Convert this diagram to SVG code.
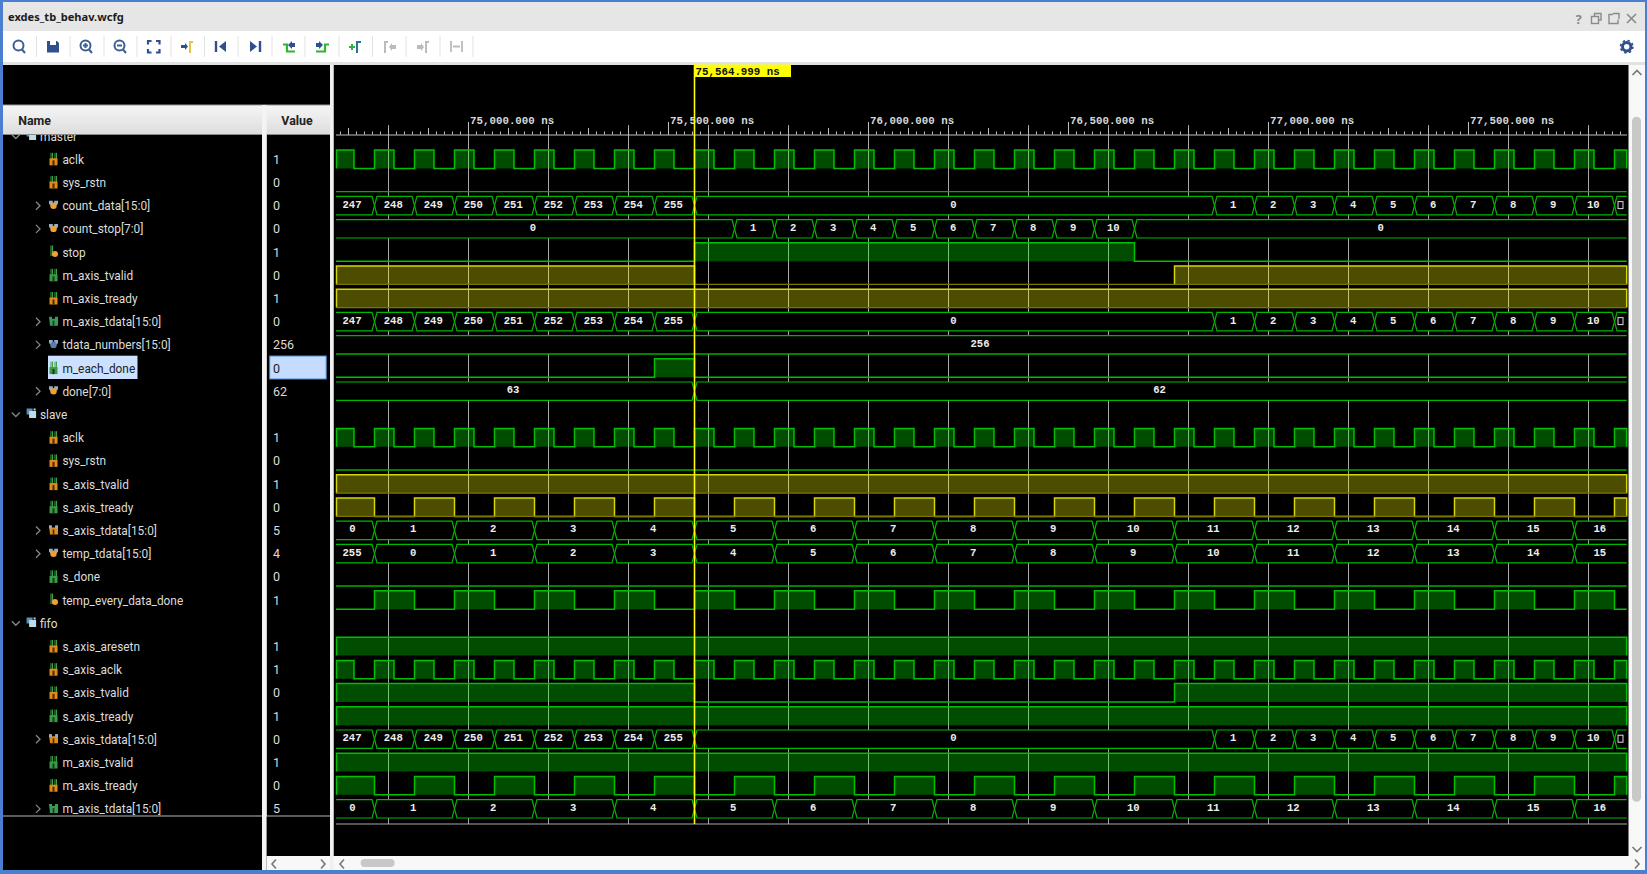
<svg xmlns="http://www.w3.org/2000/svg" xmlns:xlink="http://www.w3.org/1999/xlink" width="1647" height="874" viewBox="0 0 1647 874">
<style>
.lb{font:11.85px Roboto,"Noto Sans","Liberation Sans",sans-serif;fill:#dcdcdc}
.vl{font:12.5px Roboto,"Noto Sans","Liberation Sans",sans-serif;fill:#dcdcdc}
.hd{font:bold 12.4px Roboto,"Liberation Sans",sans-serif;fill:#222}
.t{font:bold 10.6px "Liberation Mono",monospace;fill:#eee;stroke:none;text-anchor:middle}
.r{font:bold 10.8px "Liberation Mono",monospace;fill:#d8d8d8}
.g{fill:#00ff00;fill-opacity:.3;stroke:#00c000;stroke-width:1.5}
.y{fill:#ffff00;fill-opacity:.3;stroke:#d8d800;stroke-width:1.5}
.yl{stroke:#807400;stroke-width:1.2;fill:none}
.gl{stroke:#00b000;stroke-width:1.3;fill:none}
.bus{fill:#000;stroke:#00b800;stroke-width:1.2}
.ch{fill:none;stroke:#888;stroke-width:1.3}
.sp{stroke:#e2e2e2;stroke-width:1}
.ib{fill:none;stroke:#3c5f96;stroke-width:2}
.sb{fill:none;stroke:#777;stroke-width:1.6}
</style>
<defs>
<path id="clk" d="M336.5 18.4V0H354V18.4H374.5
v-18.4h19.5v18.4h20.5 v-18.4h19.5v18.4h20.5 v-18.4h19.5v18.4h20.5 v-18.4h19.5v18.4h20.5 v-18.4h19.5v18.4h20.5
v-18.4h19.5v18.4h20.5 v-18.4h19.5v18.4h20.5 v-18.4h19.5v18.4h20.5 v-18.4h19.5v18.4h20.5 v-18.4h19.5v18.4h20.5
v-18.4h19.5v18.4h20.5 v-18.4h19.5v18.4h20.5 v-18.4h19.5v18.4h20.5 v-18.4h19.5v18.4h20.5 v-18.4h19.5v18.4h20.5
v-18.4h19.5v18.4h20.5 v-18.4h19.5v18.4h20.5 v-18.4h19.5v18.4h20.5 v-18.4h19.5v18.4h20.5 v-18.4h19.5v18.4h20.5
v-18.4h19.5v18.4h20.5 v-18.4h19.5v18.4h20.5 v-18.4h19.5v18.4h20.5 v-18.4h19.5v18.4h20.5 v-18.4h19.5v18.4h20.5
v-18.4h19.5v18.4h20.5 v-18.4h19.5v18.4h20.5 v-18.4h19.5v18.4h20.5 v-18.4h19.5v18.4h20.5 v-18.4h19.5v18.4h20.5
v-18.4h19.5v18.4h20.5
V0H1626.7V18.4"/>
<path id="half" d="M336.5 18.4V0H374.5V18.4H414.5
v-18.4h40v18.4h40 v-18.4h40v18.4h40 v-18.4h40v18.4h40 v-18.4h40v18.4h40 v-18.4h40v18.4h40
v-18.4h40v18.4h40 v-18.4h40v18.4h40 v-18.4h40v18.4h40 v-18.4h40v18.4h40 v-18.4h40v18.4h40
v-18.4h40v18.4h40 v-18.4h40v18.4h40 v-18.4h40v18.4h40 v-18.4h40v18.4h40 v-18.4h40v18.4h40
V0H1626.7V18.4"/>
<path id="inv" d="M336 18.4H374.5
v-18.4h40v18.4h40 v-18.4h40v18.4h40 v-18.4h40v18.4h40 v-18.4h40v18.4h40 v-18.4h40v18.4h40
v-18.4h40v18.4h40 v-18.4h40v18.4h40 v-18.4h40v18.4h40 v-18.4h40v18.4h40 v-18.4h40v18.4h40
v-18.4h40v18.4h40 v-18.4h40v18.4h40 v-18.4h40v18.4h40 v-18.4h40v18.4h40 v-18.4h40v18.4h40
v-18.4h40v18.4H1626.7"/>
<path id="b40" d="M0 9.2l2.5-9.2h35l2.5 9.2-2.5 9.2h-35z"/>
<path id="b80" d="M0 9.2l2.5-9.2h75l2.5 9.2-2.5 9.2h-75z"/>
<g id="countBus" class="bus">
<path d="M336 0H372l2.5 9.2-2.5 9.2H336"/>
<use href="#b40" x="374.5"/><use href="#b40" x="414.5"/><use href="#b40" x="454.5"/><use href="#b40" x="494.5"/><use href="#b40" x="534.5"/><use href="#b40" x="574.5"/><use href="#b40" x="614.5"/><use href="#b40" x="654.5"/>
<path d="M694.5 9.2l2.5-9.2H1212l2.5 9.2-2.5 9.2H697z"/>
<use href="#b40" x="1214.5"/><use href="#b40" x="1254.5"/><use href="#b40" x="1294.5"/><use href="#b40" x="1334.5"/><use href="#b40" x="1374.5"/><use href="#b40" x="1414.5"/><use href="#b40" x="1454.5"/><use href="#b40" x="1494.5"/><use href="#b40" x="1534.5"/><use href="#b40" x="1574.5"/>
<path d="M1626.7 0H1617l-2.5 9.2 2.5 9.2H1626.7"/>
<rect x="1618" y="5.2" width="5" height="7" fill="none" stroke="#ddd" stroke-width="1"/>
<text class="t" x="352" y="11.2">247</text><text class="t" x="393.3" y="11.2">248</text><text class="t" x="433.3" y="11.2">249</text><text class="t" x="473.3" y="11.2">250</text><text class="t" x="513.3" y="11.2">251</text><text class="t" x="553.3" y="11.2">252</text><text class="t" x="593.3" y="11.2">253</text><text class="t" x="633.3" y="11.2">254</text><text class="t" x="673.3" y="11.2">255</text>
<text class="t" x="953.5" y="11.2">0</text>
<text class="t" x="1233.3" y="11.2">1</text><text class="t" x="1273.3" y="11.2">2</text><text class="t" x="1313.3" y="11.2">3</text><text class="t" x="1353.3" y="11.2">4</text><text class="t" x="1393.3" y="11.2">5</text><text class="t" x="1433.3" y="11.2">6</text><text class="t" x="1473.3" y="11.2">7</text><text class="t" x="1513.3" y="11.2">8</text><text class="t" x="1553.3" y="11.2">9</text><text class="t" x="1593.3" y="11.2">10</text>
</g>
<g id="segs80" class="bus">
<path d="M336 0H372l2.5 9.2-2.5 9.2H336"/>
<use href="#b80" x="374.5"/><use href="#b80" x="454.5"/><use href="#b80" x="534.5"/><use href="#b80" x="614.5"/><use href="#b80" x="694.5"/><use href="#b80" x="774.5"/><use href="#b80" x="854.5"/><use href="#b80" x="934.5"/><use href="#b80" x="1014.5"/><use href="#b80" x="1094.5"/><use href="#b80" x="1174.5"/><use href="#b80" x="1254.5"/><use href="#b80" x="1334.5"/><use href="#b80" x="1414.5"/><use href="#b80" x="1494.5"/>
<path d="M1626.7 0H1577l-2.5 9.2 2.5 9.2H1626.7"/>
</g>
<g id="dataBus"><use href="#segs80"/>
<text class="t" x="352.5" y="11.2">0</text><text class="t" x="413.3" y="11.2">1</text><text class="t" x="493.3" y="11.2">2</text><text class="t" x="573.3" y="11.2">3</text><text class="t" x="653.3" y="11.2">4</text><text class="t" x="733.3" y="11.2">5</text><text class="t" x="813.3" y="11.2">6</text><text class="t" x="893.3" y="11.2">7</text><text class="t" x="973.3" y="11.2">8</text><text class="t" x="1053.3" y="11.2">9</text><text class="t" x="1133.3" y="11.2">10</text><text class="t" x="1213.3" y="11.2">11</text><text class="t" x="1293.3" y="11.2">12</text><text class="t" x="1373.3" y="11.2">13</text><text class="t" x="1453.3" y="11.2">14</text><text class="t" x="1533.3" y="11.2">15</text><text class="t" x="1599.8" y="11.2">16</text>
</g>
<g id="iO"><path d="M-2.5-6.5V0M-1-6.5V0M1.5-6.5V0M3-6.5V0" stroke="#3fa04a" stroke-width="1" fill="none"/><rect x="-4" y="-1" width="8" height="7" fill="#e08a1e"/><rect x="-1" y="1" width="2" height="5" fill="#4a2a00"/></g>
<g id="iG"><path d="M-2.5-6.5V0M-1-6.5V0M1.5-6.5V0M3-6.5V0" stroke="#3fa04a" stroke-width="1" fill="none"/><rect x="-4" y="-1" width="8" height="7" fill="#3c9a48"/><rect x="-1" y="1" width="2" height="5" fill="#143c1a"/></g>
<g id="iS"><path d="M-2.5-6.5V4M-1-6.5V4" stroke="#3fa04a" stroke-width="1.1" fill="none"/><circle cx="1.5" cy="2" r="3" fill="#f0a030"/></g>
<g id="bD"><path d="M-4.5-5H-.7V-1.5L-2.5 0-4.5-2ZM4.5-5H.7V-1.5L2.5 0 4.5-2Z" fill="#8fb0cc"/><circle cy="0" r="3.2" fill="#f0a030"/></g>
<g id="bN"><path d="M-4.5-5H-.7V-1.5L-2.5 0-4.5-2ZM4.5-5H.7V-1.5L2.5 0 4.5-2Z" fill="#8fb0cc"/><circle cy="0" r="3.2" fill="#5e7ea8"/></g>
<g id="bG"><path d="M-4.5-5H-1.5V-3H1.5V-5H4.5V4H-3.5Z" fill="#3c9a58"/><rect x="-.8" y="-1" width="1.6" height="5" fill="#143c1a"/></g>
<g id="bO"><path d="M-4.5-5H-1.5V-3H1.5V-5H4.5V4H-3.5Z" fill="#e08a1e"/><path d="M-4.5-5H-2V-2H-4.5ZM4.5-5H2V-2H4.5Z" fill="#8fb0cc"/><rect x="-.8" y="-1" width="1.6" height="5" fill="#4a2a00"/></g>
<g id="gi"><rect x="-5" y="-5.5" width="6" height="6" fill="#5d90b6"/><rect x="-2.5" y="-3" width="7" height="7" fill="#bcdcea"/><rect x="2" y="-5.5" width="2" height="2" fill="#bcdcea"/></g>
<path id="cv" class="ch" d="M-2-4 2 0-2 4"/>
<path id="cd" class="ch" d="M-4-2 0 2 4-2"/>
</defs>

<g id="window">
<rect width="1647" height="874" fill="#f8f8f8"/>
<rect x="0" y="2" width="1647" height="29" fill="#e6e6e6"/>
<rect x="0" y="31" width="1647" height="31" fill="#fff"/>
<rect x="0" y="62" width="1647" height="3" fill="#e2e2e2"/>
<text x="8" y="20.5" font-family="'Noto Sans','Liberation Sans',sans-serif" font-weight="700" font-size="11.1" fill="#1c1c1c">exdes_tb_behav.wcfg</text>
<g id="title-icons" fill="none" stroke="#8a8a8a" stroke-width="1.4">
<text x="1578.5" y="23.5" text-anchor="middle" font-family="'Noto Sans',sans-serif" font-weight="700" font-size="13" fill="#8a8a8a" stroke="none">?</text>
<rect x="1591.5" y="16.5" width="7" height="7"/><path d="M1594.5 16.5V13.5H1601V20H1598.5"/>
<path d="M1613 14.5H1609V23.5H1618V19.5M1613 13.5H1619V19"/>
<path d="M1627 14 1636 23M1636 14 1627 23" stroke-width="1.6"/>
</g>
</g>

<g id="toolbar">
<path class="sp" d="M36.5 36V57M70 36V57M104 36V57M137 36V57M171 36V57M204.5 36V57M238 36V57M272 36V57M305 36V57M339 36V57M372.5 36V57M406 36V57M440 36V57M473 36V57"/>
<g class="ib"><circle cx="18.5" cy="45.5" r="5"/><path d="M22 49.5 25 53"/></g>
<path d="M47 41H57L59 43V52.5H47Z" fill="#2f4f8e"/><rect x="50" y="41" width="6" height="4" fill="#fff"/>
<g class="ib"><circle cx="85.5" cy="45.5" r="5"/><path d="M89 49.5 92 53M83 45.5H88M85.5 43V48" /></g>
<g class="ib"><circle cx="119.5" cy="45.5" r="5"/><path d="M123 49.5 126 53M117 45.5H122"/></g>
<path d="M148 44.5V41H151.5M159.5 44.5V41H156M148 49V52.5H151.5M159.5 49V52.5H156" fill="none" stroke="#2f4f8e" stroke-width="2.2"/>
<path d="M181 45H185V43L188 46.5 185 50V48H181Z" fill="#2f4f8e"/><path d="M190 53V42H193" fill="none" stroke="#e6c34a" stroke-width="2"/>
<path d="M216 41V52" stroke="#2f4f8e" stroke-width="2.4"/><path d="M226 41V52L219 46.5Z" fill="#2f4f8e"/>
<path d="M260 41V52" stroke="#2f4f8e" stroke-width="2.4"/><path d="M250 41V52L257 46.5Z" fill="#2f4f8e"/>
<path d="M283 44.5H287V51.5H295" fill="none" stroke="#2fb52f" stroke-width="2.2"/><path d="M288 45l4-4v2h3v4h-3v2z" fill="#2f4f8e"/>
<path d="M316 51.5H325V44.5H329" fill="none" stroke="#2fb52f" stroke-width="2.2"/><path d="M316 43h3v-2l4 4-4 4v-2h-3z" fill="#2f4f8e"/>
<path d="M349 47H355M352 44V50" stroke="#2fb52f" stroke-width="2"/><path d="M357 53V42H361" fill="none" stroke="#2f6fa8" stroke-width="2"/>
<path d="M385 53V42H388" fill="none" stroke="#bbb" stroke-width="2"/><path d="M396 45H392V43L389 47 392 51V49H396Z" fill="#bbb"/>
<path d="M417 45H421V43L424 47 421 51V49H417Z" fill="#bbb"/><path d="M426 53V42H429" fill="none" stroke="#bbb" stroke-width="2"/>
<path d="M451 41V52M462 41V52M453 46.5H460" fill="none" stroke="#bbb" stroke-width="1.8"/>
<circle cx="1626.7" cy="46.7" r="4.2" fill="none" stroke="#2f4f8e" stroke-width="3"/><circle cx="1626.7" cy="46.7" r="6.2" fill="none" stroke="#2f4f8e" stroke-width="1.6" stroke-dasharray="2.4 2.47"/>
</g>

<g id="panels">
<rect x="3" y="65" width="259" height="805" fill="#000"/>
<rect x="266.6" y="65" width="63.4" height="791" fill="#000"/>
<rect x="333.5" y="65" width="1295" height="791" fill="#000"/>
<rect x="3" y="65" width="327" height="40" fill="#000"/>
</g>

<g id="name-list">
<g id="tree-master"><use href="#cd" x="15.8" y="136.5"/><use href="#gi" x="31.6" y="136"/><text class="lb" x="40" y="141">master</text></g>
<rect x="48" y="355.7" width="89.5" height="23.3" fill="#cce0ff"/>
<rect x="269.7" y="356" width="56.5" height="23" fill="#c4dcff" stroke="#4a88cc" stroke-width="1"/>
<g id="n-aclk"><use href="#iO" x="53.5" y="159.3"/><text class="lb" x="62.4" y="163.7">aclk</text><text class="vl" x="273" y="163.7">1</text></g>
<g id="n-sys_rstn"><use href="#iO" x="53.5" y="182.5"/><text class="lb" x="62.4" y="186.9">sys_rstn</text><text class="vl" x="273" y="186.9">0</text></g>
<g id="n-count_data"><use href="#cv" x="38" y="205.7"/><use href="#bD" x="53.5" y="205.7"/><text class="lb" x="62.4" y="210.1">count_data[15:0]</text><text class="vl" x="273" y="210.1">0</text></g>
<g id="n-count_stop"><use href="#cv" x="38" y="228.9"/><use href="#bD" x="53.5" y="228.9"/><text class="lb" x="62.4" y="233.3">count_stop[7:0]</text><text class="vl" x="273" y="233.3">0</text></g>
<g id="n-stop"><use href="#iS" x="53.5" y="252.1"/><text class="lb" x="62.4" y="256.5">stop</text><text class="vl" x="273" y="256.5">1</text></g>
<g id="n-m_axis_tvalid"><use href="#iG" x="53.5" y="275.3"/><text class="lb" x="62.4" y="279.7">m_axis_tvalid</text><text class="vl" x="273" y="279.7">0</text></g>
<g id="n-m_axis_tready"><use href="#iO" x="53.5" y="298.5"/><text class="lb" x="62.4" y="302.9">m_axis_tready</text><text class="vl" x="273" y="302.9">1</text></g>
<g id="n-m_axis_tdata"><use href="#cv" x="38" y="321.7"/><use href="#bG" x="53.5" y="321.7"/><text class="lb" x="62.4" y="326.1">m_axis_tdata[15:0]</text><text class="vl" x="273" y="326.1">0</text></g>
<g id="n-tdata_numbers"><use href="#cv" x="38" y="344.9"/><use href="#bN" x="53.5" y="344.9"/><text class="lb" x="62.4" y="349.3">tdata_numbers[15:0]</text><text class="vl" x="273" y="349.3">256</text></g>
<g id="n-m_each_done"><use href="#iG" x="53.5" y="368.1"/><text class="lb" x="62.4" y="372.5" style="fill:#222">m_each_done</text><text class="vl" x="273" y="372.5" style="fill:#222">0</text></g>
<g id="n-done"><use href="#cv" x="38" y="391.3"/><use href="#bD" x="53.5" y="391.3"/><text class="lb" x="62.4" y="395.7">done[7:0]</text><text class="vl" x="273" y="395.7">62</text></g>
<g id="tree-slave"><use href="#cd" x="15.8" y="414.5"/><use href="#gi" x="31.6" y="414"/><text class="lb" x="40" y="418.9">slave</text></g>
<g id="n-s-aclk"><use href="#iO" x="53.5" y="437.7"/><text class="lb" x="62.4" y="442.1">aclk</text><text class="vl" x="273" y="442.1">1</text></g>
<g id="n-s-sys_rstn"><use href="#iO" x="53.5" y="460.9"/><text class="lb" x="62.4" y="465.3">sys_rstn</text><text class="vl" x="273" y="465.3">0</text></g>
<g id="n-s_axis_tvalid"><use href="#iO" x="53.5" y="484.1"/><text class="lb" x="62.4" y="488.5">s_axis_tvalid</text><text class="vl" x="273" y="488.5">1</text></g>
<g id="n-s_axis_tready"><use href="#iG" x="53.5" y="507.3"/><text class="lb" x="62.4" y="511.7">s_axis_tready</text><text class="vl" x="273" y="511.7">0</text></g>
<g id="n-s_axis_tdata"><use href="#cv" x="38" y="530.5"/><use href="#bO" x="53.5" y="530.5"/><text class="lb" x="62.4" y="534.9">s_axis_tdata[15:0]</text><text class="vl" x="273" y="534.9">5</text></g>
<g id="n-temp_tdata"><use href="#cv" x="38" y="553.7"/><use href="#bD" x="53.5" y="553.7"/><text class="lb" x="62.4" y="558.1">temp_tdata[15:0]</text><text class="vl" x="273" y="558.1">4</text></g>
<g id="n-s_done"><use href="#iG" x="53.5" y="576.9"/><text class="lb" x="62.4" y="581.3">s_done</text><text class="vl" x="273" y="581.3">0</text></g>
<g id="n-temp_every"><use href="#iS" x="53.5" y="600.1"/><text class="lb" x="62.4" y="604.5">temp_every_data_done</text><text class="vl" x="273" y="604.5">1</text></g>
<g id="tree-fifo"><use href="#cd" x="15.8" y="623.3"/><use href="#gi" x="31.6" y="623"/><text class="lb" x="40" y="627.7">fifo</text></g>
<g id="n-f-aresetn"><use href="#iO" x="53.5" y="646.5"/><text class="lb" x="62.4" y="650.9">s_axis_aresetn</text><text class="vl" x="273" y="650.9">1</text></g>
<g id="n-f-aclk"><use href="#iO" x="53.5" y="669.7"/><text class="lb" x="62.4" y="674.1">s_axis_aclk</text><text class="vl" x="273" y="674.1">1</text></g>
<g id="n-f-s_tvalid"><use href="#iO" x="53.5" y="692.9"/><text class="lb" x="62.4" y="697.3">s_axis_tvalid</text><text class="vl" x="273" y="697.3">0</text></g>
<g id="n-f-s_tready"><use href="#iG" x="53.5" y="716.1"/><text class="lb" x="62.4" y="720.5">s_axis_tready</text><text class="vl" x="273" y="720.5">1</text></g>
<g id="n-f-s_tdata"><use href="#cv" x="38" y="739.3"/><use href="#bO" x="53.5" y="739.3"/><text class="lb" x="62.4" y="743.7">s_axis_tdata[15:0]</text><text class="vl" x="273" y="743.7">0</text></g>
<g id="n-f-m_tvalid"><use href="#iG" x="53.5" y="762.5"/><text class="lb" x="62.4" y="766.9">m_axis_tvalid</text><text class="vl" x="273" y="766.9">1</text></g>
<g id="n-f-m_tready"><use href="#iO" x="53.5" y="785.7"/><text class="lb" x="62.4" y="790.1">m_axis_tready</text><text class="vl" x="273" y="790.1">0</text></g>
<g id="n-f-m_tdata"><use href="#cv" x="38" y="808.9"/><use href="#bG" x="53.5" y="808.9"/><text class="lb" x="62.4" y="813.3">m_axis_tdata[15:0]</text><text class="vl" x="273" y="813.3">5</text></g>
<rect x="3" y="816" width="327" height="58" fill="#000"/>
<rect x="266.6" y="856" width="64" height="14" fill="#f8f8f8"/>
<path d="M3 816H330" stroke="#b8b8b8" stroke-width="1"/>
</g>

<g id="header">
<defs><linearGradient id="hg" x1="0" y1="0" x2="0" y2="1"><stop offset="0" stop-color="#f6f6f6"/><stop offset="1" stop-color="#dcdcdc"/></linearGradient></defs>
<rect x="3" y="105" width="327" height="30" fill="url(#hg)"/>
<path d="M3 134.5H330" stroke="#8a8a8a" stroke-width="1"/><path d="M3 105H330" stroke="#9a9a9a" stroke-width="1"/>
<text class="hd" x="18.2" y="124.5">Name</text><text class="hd" x="297" y="124.5" text-anchor="middle">Value</text>
<rect x="262" y="105" width="4.6" height="765" fill="#f4f4f4"/>
<rect x="330" y="65" width="3.5" height="805" fill="#f0f0f0"/>
</g>

<g id="ruler">
<path d="M388.5 125V824M468.5 125V824M548.5 125V824M628.5 125V824M708.5 125V824M788.5 125V824M868.5 125V824M948.5 125V824M1028.5 125V824M1108.5 125V824M1188.5 125V824M1268.5 125V824M1348.5 125V824M1428.5 125V824M1508.5 125V824M1588.5 125V824" stroke="#a8a8a8" stroke-width="1" fill="none"/>
<line x1="336" x2="1627" y1="135" y2="135" stroke="#c0c0c0" stroke-width="1"/>
<line x1="340" x2="1627" y1="133" y2="133" stroke="#c0c0c0" stroke-width="3" stroke-dasharray="1 7"/>
<line x1="348" x2="1627" y1="131.5" y2="131.5" stroke="#c0c0c0" stroke-width="7" stroke-dasharray="1 39"/>
<path d="M468.5 122V135M668.5 122V135M868.5 122V135M1068.5 122V135M1268.5 122V135M1468.5 122V135" stroke="#c0c0c0" stroke-width="1"/>
<text class="r" x="470" y="123.5">75,000.000 ns</text><text class="r" x="670" y="123.5">75,500.000 ns</text><text class="r" x="870" y="123.5">76,000.000 ns</text><text class="r" x="1070" y="123.5">76,500.000 ns</text><text class="r" x="1270" y="123.5">77,000.000 ns</text><text class="r" x="1470" y="123.5">77,500.000 ns</text>
<line x1="336" x2="1627" y1="824" y2="824" stroke="#a8a8a8" stroke-width="1.2"/>
</g>

<g id="waves">
<g id="w-aclk" transform="translate(0,150)"><use href="#clk" class="g"/></g>
<g id="w-sys_rstn" transform="translate(0,173.2)"><path class="gl" d="M336 18.4H1626.7"/></g>
<g id="w-count_data" transform="translate(0,196.4)"><use href="#countBus"/></g>
<g id="w-count_stop" transform="translate(0,219.6)"><g class="bus"><path d="M336 0H732l2.5 9.2-2.5 9.2H336"/><use href="#b40" x="734.5"/><use href="#b40" x="774.5"/><use href="#b40" x="814.5"/><use href="#b40" x="854.5"/><use href="#b40" x="894.5"/><use href="#b40" x="934.5"/><use href="#b40" x="974.5"/><use href="#b40" x="1014.5"/><use href="#b40" x="1054.5"/><use href="#b40" x="1094.5"/><path d="M1626.7 0H1137l-2.5 9.2 2.5 9.2H1626.7"/></g>
<text class="t" x="533" y="11.2">0</text><text class="t" x="753.3" y="11.2">1</text><text class="t" x="793.3" y="11.2">2</text><text class="t" x="833.3" y="11.2">3</text><text class="t" x="873.3" y="11.2">4</text><text class="t" x="913.3" y="11.2">5</text><text class="t" x="953.3" y="11.2">6</text><text class="t" x="993.3" y="11.2">7</text><text class="t" x="1033.3" y="11.2">8</text><text class="t" x="1073.3" y="11.2">9</text><text class="t" x="1113.3" y="11.2">10</text><text class="t" x="1380.8" y="11.2">0</text></g>
<g id="w-stop" transform="translate(0,242.8)"><path class="g" d="M336 18.4H694.5V0H1134.5V18.4H1626.7"/></g>
<g id="w-m_axis_tvalid" transform="translate(0,266)"><path class="y" d="M336.5 18.4V0H694.5V18.4M1174.5 18.4V0H1626.7V18.4"/><path class="yl" d="M336 18.4H1626.7"/></g>
<g id="w-m_axis_tready" transform="translate(0,289.2)"><path class="y" d="M336.5 18.4V0H1626.7V18.4"/><path class="yl" d="M336 18.4H1626.7"/></g>
<g id="w-m_axis_tdata" transform="translate(0,312.4)"><use href="#countBus"/></g>
<g id="w-tdata_numbers" transform="translate(0,335.6)"><rect x="336" width="1290.7" height="18.4" fill="#000"/><path class="gl" d="M336 0H1626.7M336 18.4H1626.7"/><text class="t" x="980" y="11.2">256</text></g>
<g id="w-m_each_done" transform="translate(0,358.8)"><path class="g" d="M336 18.4H654.5V0H694.5V18.4H1626.7"/></g>
<g id="w-done" transform="translate(0,382)"><g class="bus"><path d="M336 0H692l2.5 9.2-2.5 9.2H336"/><path d="M1626.7 0H697l-2.5 9.2 2.5 9.2H1626.7"/></g><text class="t" x="513" y="11.2">63</text><text class="t" x="1159.5" y="11.2">62</text></g>
<g id="w-s-aclk" transform="translate(0,428.4)"><use href="#clk" class="g"/></g>
<g id="w-s-sys_rstn" transform="translate(0,451.6)"><path class="gl" d="M336 18.4H1626.7"/></g>
<g id="w-s_axis_tvalid" transform="translate(0,474.8)"><path class="y" d="M336.5 18.4V0H1626.7V18.4"/><path class="yl" d="M336 18.4H1626.7"/></g>
<g id="w-s_axis_tready" transform="translate(0,498)"><use href="#half" class="y"/><path class="yl" d="M336 18.4H1626.7"/></g>
<g id="w-s_axis_tdata" transform="translate(0,521.2)"><use href="#dataBus"/></g>
<g id="w-temp_tdata" transform="translate(0,544.4)"><use href="#segs80"/><text class="t" x="352" y="11.2">255</text><text class="t" x="413.3" y="11.2">0</text><text class="t" x="493.3" y="11.2">1</text><text class="t" x="573.3" y="11.2">2</text><text class="t" x="653.3" y="11.2">3</text><text class="t" x="733.3" y="11.2">4</text><text class="t" x="813.3" y="11.2">5</text><text class="t" x="893.3" y="11.2">6</text><text class="t" x="973.3" y="11.2">7</text><text class="t" x="1053.3" y="11.2">8</text><text class="t" x="1133.3" y="11.2">9</text><text class="t" x="1213.3" y="11.2">10</text><text class="t" x="1293.3" y="11.2">11</text><text class="t" x="1373.3" y="11.2">12</text><text class="t" x="1453.3" y="11.2">13</text><text class="t" x="1533.3" y="11.2">14</text><text class="t" x="1599.8" y="11.2">15</text></g>
<g id="w-s_done" transform="translate(0,567.6)"><path class="gl" d="M336 18.4H1626.7"/></g>
<g id="w-temp_every" transform="translate(0,590.8)"><use href="#inv" class="g"/></g>
<g id="w-f-aresetn" transform="translate(0,637.2)"><path class="g" d="M336.5 18.4V0H1626.7V18.4"/></g>
<g id="w-f-aclk" transform="translate(0,660.4)"><use href="#clk" class="g"/></g>
<g id="w-f-s_tvalid" transform="translate(0,683.6)"><path class="g" d="M336.5 18.4V0H694.5V18.4H1174.5V0H1626.7V18.4"/></g>
<g id="w-f-s_tready" transform="translate(0,706.8)"><path class="g" d="M336.5 18.4V0H1626.7V18.4"/></g>
<g id="w-f-s_tdata" transform="translate(0,730)"><use href="#countBus"/></g>
<g id="w-f-m_tvalid" transform="translate(0,753.2)"><path class="g" d="M336.5 18.4V0H1626.7V18.4"/></g>
<g id="w-f-m_tready" transform="translate(0,776.4)"><use href="#half" class="g"/></g>
<g id="w-f-m_tdata" transform="translate(0,799.6)"><use href="#dataBus"/></g>
</g>

<g id="cursor">
<path d="M694.5 64V824" stroke="#ffff00" stroke-width="1.6"/>
<rect x="694.5" y="64.5" width="96.5" height="12.5" fill="#ffff00"/>
<text x="695.5" y="74.8" font-family="'Liberation Mono',monospace" font-weight="700" font-size="10.8" fill="#111">75,564.999 ns</text>
</g>

<g id="scrollbars">
<path d="M1632.5 75 1637 70.5 1641.5 75" class="sb"/>
<rect x="1632" y="116.7" width="9" height="685" rx="4.5" fill="#c8c8c8"/>
<path d="M1632.5 847 1637 851.5 1641.5 847" class="sb"/>
<path d="M1635 859.5 1639 864 1635 868.5" class="sb"/>
<rect x="360.6" y="859" width="34" height="8" rx="4" fill="#c8c8c8"/>
<path d="M344 859.5 340 864 344 868.5" class="sb"/>
<path d="M276 859.5 272 864 276 868.5" class="sb"/>
<path d="M321 859.5 325 864 321 868.5" class="sb"/>
</g>

<g id="border">
<rect x="0" y="0" width="1647" height="2" fill="#4a7fd0"/>
<rect x="0" y="0" width="3" height="874" fill="#4a7fd0"/>
<rect x="1645" y="0" width="2" height="874" fill="#4a7fd0"/>
<rect x="0" y="870" width="1647" height="4" fill="#4a7fd0"/>
</g>
</svg>
